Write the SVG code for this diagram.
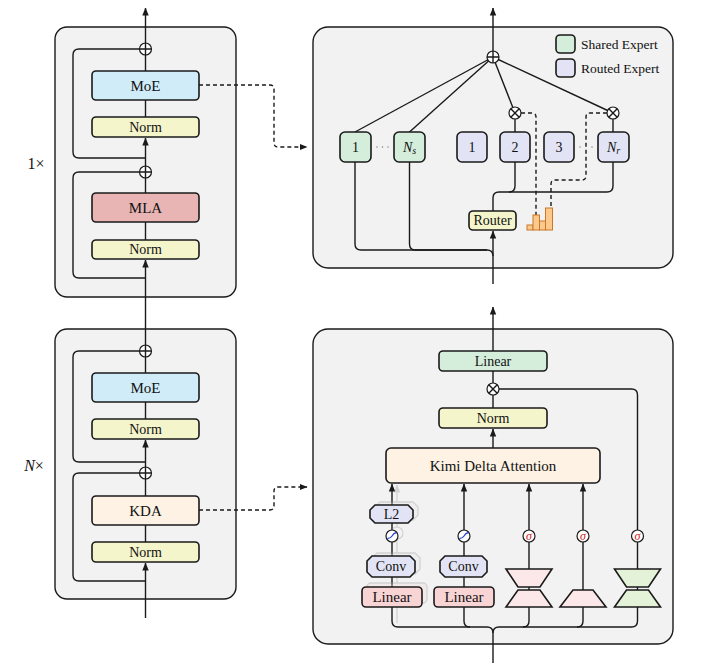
<svg xmlns="http://www.w3.org/2000/svg" width="720" height="671" viewBox="0 0 720 671">
<defs>
<style>
.panel{fill:#f2f2f2;stroke:#1a1a1a;stroke-width:1.4}
.box{stroke:#1a1a1a;stroke-width:1.6}
.ln{fill:none;stroke:#1a1a1a;stroke-width:1.4}
.dash{fill:none;stroke:#1a1a1a;stroke-width:1.4;stroke-dasharray:4 3}
.t{font-family:"Liberation Serif",serif;font-size:15px;fill:#111;text-anchor:middle;dominant-baseline:central}
.ts{font-family:"Liberation Serif",serif;font-size:14px;fill:#111;text-anchor:middle;dominant-baseline:central}
.lg{font-family:"Liberation Serif",serif;font-size:13.5px;fill:#111;dominant-baseline:central}
.lab{font-family:"Liberation Serif",serif;font-size:16px;fill:#111;text-anchor:middle;dominant-baseline:central}
.op{fill:#fff;stroke:#1a1a1a;stroke-width:1.2}
.moe{fill:#d0ecf8}.norm{fill:#f5f5cc}.mla{fill:#e8b4b4}.kda{fill:#fdf2e4}
.sh{fill:#d5eedc}.ro{fill:#e2e4f5}.lin{fill:#f8d4d4}.conv{fill:#e2e4f5}
.pk{fill:#fce8e8}.gr{fill:#e4f2d8}
.bar{fill:#fcc88c;stroke:#c87828;stroke-width:1}
.sig{font-family:"Liberation Serif",serif;font-style:italic;font-size:12px;fill:#d01818;text-anchor:middle;dominant-baseline:central}
.sw{fill:none;stroke:#2a48e0;stroke-width:1.3}
.dot{fill:#777}
</style>
<marker id="ar" viewBox="0 0 8 8" refX="7.5" refY="4" markerWidth="8" markerHeight="8" markerUnits="userSpaceOnUse" orient="auto">
<path d="M0,0.8 L8,4 L0,7.2 Z" fill="#1a1a1a"/>
</marker>
<marker id="arg" viewBox="0 0 8 8" refX="7.5" refY="4" markerWidth="8" markerHeight="8" markerUnits="userSpaceOnUse" orient="auto">
<path d="M0,0.8 L8,4 L0,7.2 Z" fill="#999"/>
</marker>
</defs>

<!-- panels -->
<g id="panel-top-left"><rect class="panel" x="55" y="27" width="181" height="270" rx="12"/></g>
<g id="panel-bottom-left"><rect class="panel" x="55" y="329" width="181" height="270" rx="12"/></g>
<g id="panel-top-right"><rect class="panel" x="313" y="27" width="360" height="241" rx="15"/></g>
<g id="panel-bottom-right"><rect class="panel" x="313" y="329" width="360" height="315" rx="15"/></g>

<g id="connectors">
<!-- left stack trunk -->
<path class="ln" d="M145.5 618 V563" marker-end="url(#ar)"/>
<path class="ln" d="M145.5 562 V479"/>
<path class="ln" d="M145.5 467 V440" marker-end="url(#ar)"/>
<path class="ln" d="M145.5 439 V357"/>
<path class="ln" d="M145.5 345 V260" marker-end="url(#ar)"/>
<path class="ln" d="M145.5 259 V178"/>
<path class="ln" d="M145.5 166 V138" marker-end="url(#ar)"/>
<path class="ln" d="M145.5 137 V55"/>
<path class="ln" d="M145.5 43 V8" marker-end="url(#ar)"/>
<!-- residual loops -->
<path class="ln" d="M145.5 278 H79 Q73 278 73 272 V178 Q73 172 79 172 H139.5"/>
<path class="ln" d="M145.5 158 H79 Q73 158 73 152 V55 Q73 49 79 49 H139.5"/>
<path class="ln" d="M145.5 581 H79 Q73 581 73 575 V479 Q73 473 79 473 H139.5"/>
<path class="ln" d="M145.5 462 H79 Q73 462 73 456 V357 Q73 351 79 351 H139.5"/>
<!-- dashed zoom links -->
<path class="dash" d="M199 85 H270 Q274 85 274 89 V143 Q274 147 278 147 H307" marker-end="url(#ar)"/>
<path class="dash" d="M199 510 H270 Q274 510 274 506 V491 Q274 487 278 487 H307" marker-end="url(#ar)"/>

<!-- MoE detail -->
<path class="ln" d="M493 284 V231" marker-end="url(#ar)"/>
<path class="ln" d="M355 162 V244 Q355 250 361 250 H487 Q493 250 493 256"/>
<path class="ln" d="M409.5 162 V244 Q409.5 250 415.5 250 H487"/>
<path class="ln" d="M493 211 V198 Q493 192 499 192 H607 Q613 192 613 186 V162"/>
<path class="ln" d="M515 162 V186 Q515 192 509 192"/>
<path class="ln" d="M493 57 L355 132"/>
<path class="ln" d="M493 57 L409.5 132"/>
<path class="ln" d="M493 57 L515 113"/>
<path class="ln" d="M493 57 L613 113"/>
<path class="ln" d="M515 119 V132"/>
<path class="ln" d="M613 119 V132"/>
<path class="ln" d="M493 51 V8" marker-end="url(#ar)"/>
<path class="dash" d="M521 113 H532 Q536 113 536 117 V215"/>
<path class="dash" d="M607 113 H590 Q586 113 586 117 V176 Q586 180 582 180 H555 Q551 180 551 184 V208"/>

<!-- KDA detail -->
<path class="ln" d="M493 351 V307" marker-end="url(#ar)"/>
<path class="ln" d="M493 383 V371"/>
<path class="ln" d="M493 408 V395"/>
<path class="ln" d="M493 448 V429" marker-end="url(#ar)"/>
<path class="ln" d="M499 389 H631.5 Q637.5 389 637.5 395 V530"/>
<path class="ln" d="M493 663 V633"/>
<path class="ln" d="M493 633 Q493 627 487 627 H398 Q392 627 392 621 V484" marker-end="url(#ar)"/>
<path class="ln" d="M470 627 Q464 627 464 621 V484" marker-end="url(#ar)"/>
<path class="ln" d="M493 633 Q493 627 499 627 H631.5 Q637.5 627 637.5 621 V542"/>
<path class="ln" d="M523 627 Q529 627 529 621 V484" marker-end="url(#ar)"/>
<path class="ln" d="M577 627 Q583 627 583 621 V484" marker-end="url(#ar)"/>
</g>

<!-- left stack nodes -->
<g id="moe-1"><rect class="box moe" x="92" y="71" width="107" height="29" rx="4"/><text class="t" x="145.5" y="85.5">MoE</text></g>
<g id="norm-1b"><rect class="box norm" x="92" y="117" width="107" height="20" rx="4"/><text class="ts" x="145.5" y="127">Norm</text></g>
<g id="mla"><rect class="box mla" x="92" y="193" width="107" height="29" rx="4"/><text class="t" x="145.5" y="207.5">MLA</text></g>
<g id="norm-1a"><rect class="box norm" x="92" y="240" width="107" height="19" rx="4"/><text class="ts" x="145.5" y="249.5">Norm</text></g>
<g id="add-1b"><circle class="op" cx="145.5" cy="49" r="6"/><path class="ln" d="M139.5 49 H151.5 M145.5 43 V55"/></g>
<g id="add-1a"><circle class="op" cx="145.5" cy="172" r="6"/><path class="ln" d="M139.5 172 H151.5 M145.5 166 V178"/></g>
<g id="label-1x"><text class="lab" x="36" y="163">1×</text></g>

<g id="moe-n"><rect class="box moe" x="92" y="373" width="107" height="29" rx="4"/><text class="t" x="145.5" y="387.5">MoE</text></g>
<g id="norm-nb"><rect class="box norm" x="92" y="419" width="107" height="20" rx="4"/><text class="ts" x="145.5" y="429">Norm</text></g>
<g id="kda"><rect class="box kda" x="92" y="496" width="107" height="29" rx="4"/><text class="t" x="145.5" y="510.5">KDA</text></g>
<g id="norm-na"><rect class="box norm" x="92" y="542" width="107" height="20" rx="4"/><text class="ts" x="145.5" y="552">Norm</text></g>
<g id="add-nb"><circle class="op" cx="145.5" cy="351" r="6"/><path class="ln" d="M139.5 351 H151.5 M145.5 345 V357"/></g>
<g id="add-na"><circle class="op" cx="145.5" cy="473" r="6"/><path class="ln" d="M139.5 473 H151.5 M145.5 467 V479"/></g>
<g id="label-nx"><text class="lab" x="34" y="465"><tspan font-style="italic">N</tspan>×</text></g>

<!-- MoE detail nodes -->
<g id="moe-add"><circle class="op" cx="493" cy="57" r="6"/><path class="ln" d="M487 57 H499 M493 51 V63"/></g>
<g id="mul-2"><circle class="op" cx="515" cy="113" r="6"/><path class="ln" d="M510.8 108.8 L519.2 117.2 M519.2 108.8 L510.8 117.2"/></g>
<g id="mul-nr"><circle class="op" cx="613" cy="113" r="6"/><path class="ln" d="M608.8 108.8 L617.2 117.2 M617.2 108.8 L608.8 117.2"/></g>
<g id="shared-1"><rect class="box sh" x="340" y="132" width="31" height="30" rx="5"/><text class="ts" x="355.5" y="147">1</text></g>
<g id="shared-ns"><rect class="box sh" x="394" y="132" width="31" height="30" rx="5"/><text class="ts" x="409.5" y="147"><tspan font-style="italic">N</tspan><tspan font-style="italic" font-size="10" dy="3">s</tspan></text></g>
<g id="routed-1"><rect class="box ro" x="457" y="132" width="30" height="30" rx="5"/><text class="ts" x="472" y="147">1</text></g>
<g id="routed-2"><rect class="box ro" x="500" y="132" width="30" height="30" rx="5"/><text class="ts" x="515" y="147">2</text></g>
<g id="routed-3"><rect class="box ro" x="544" y="132" width="30" height="30" rx="5"/><text class="ts" x="559" y="147">3</text></g>
<g id="routed-nr"><rect class="box ro" x="598" y="132" width="31" height="30" rx="5"/><text class="ts" x="613.5" y="147"><tspan font-style="italic">N</tspan><tspan font-style="italic" font-size="10" dy="3">r</tspan></text></g>
<g id="dots"><circle class="dot" cx="377" cy="147" r="0.7"/><circle class="dot" cx="382.5" cy="147" r="0.7"/><circle class="dot" cx="388" cy="147" r="0.7"/><circle class="dot" cx="580" cy="147" r="0.7"/><circle class="dot" cx="592" cy="147" r="0.7"/></g>
<g id="router"><rect class="box norm" x="469" y="211" width="47" height="19" rx="4"/><text class="ts" x="492.5" y="220.5" font-size="13.5">Router</text></g>
<g id="scores"><rect class="bar" x="527" y="225" width="6" height="5"/><rect class="bar" x="533" y="215" width="6.5" height="15"/><rect class="bar" x="539.5" y="221" width="6" height="9"/><rect class="bar" x="545.5" y="208" width="7" height="22"/></g>
<g id="legend"><rect class="box sh" x="556" y="35" width="19" height="18" rx="4"/><text class="lg" x="581" y="44">Shared Expert</text><rect class="box ro" x="556" y="59" width="19" height="18" rx="4"/><text class="lg" x="581" y="68">Routed Expert</text></g>

<!-- KDA detail nodes -->
<g id="out-linear"><rect class="box sh" x="439" y="351" width="108" height="20" rx="4"/><text class="ts" x="493" y="361">Linear</text></g>
<g id="gate-mul"><circle class="op" cx="493" cy="389" r="6"/><path class="ln" d="M488.8 384.8 L497.2 393.2 M497.2 384.8 L488.8 393.2"/></g>
<g id="out-norm"><rect class="box norm" x="439" y="408" width="108" height="20" rx="4"/><text class="ts" x="493" y="418">Norm</text></g>
<g id="kimi-delta-attention"><rect class="box kda" x="386" y="448" width="214" height="35" rx="5"/><text class="t" x="493" y="465.5">Kimi Delta Attention</text></g>

<g id="branch-q-ghost" opacity="0.35">
<path d="M397 623 V485" fill="none" stroke="#999" stroke-width="1.3" marker-end="url(#arg)"/>
<path d="M380 502 H413 L418 507 V515 L413 520 H380 L375 515 V507 Z" fill="#e8e8ee" stroke="#999" stroke-width="1.3"/>
<circle cx="397" cy="533" r="6" fill="#f4f4f4" stroke="#999" stroke-width="1.2"/>
<path d="M377 553 H415 L420 558 V569 L415 574 H377 L372 569 V558 Z" fill="#e8e8ee" stroke="#999" stroke-width="1.3"/>
<rect x="367" y="583" width="60" height="20" rx="4" fill="#f2dcdc" stroke="#999" stroke-width="1.3"/>
</g>
<g id="branch-q">
<path class="box conv" d="M375 505 H408 L413 510 V518 L408 523 H375 L370 518 V510 Z"/><text class="ts" x="391.5" y="514">L2</text>
<circle class="op" cx="392" cy="536" r="6"/><path class="sw" d="M387.5 538.5 Q390.5 538.5 392 536 Q393.5 533 396.5 532.5"/>
<path class="box conv" d="M372 556 H410 L415 561 V572 L410 577 H372 L367 572 V561 Z"/><text class="ts" x="391" y="566.5">Conv</text>
<rect class="box lin" x="362" y="587" width="60" height="20" rx="4"/><text class="t" x="392" y="597">Linear</text>
</g>
<g id="branch-k">
<circle class="op" cx="464" cy="536" r="6"/><path class="sw" d="M459.5 538.5 Q462.5 538.5 464 536 Q465.5 533 468.5 532.5"/>
<path class="box conv" d="M445 556 H482 L487 561 V572 L482 577 H445 L440 572 V561 Z"/><text class="ts" x="463.5" y="566.5">Conv</text>
<rect class="box lin" x="434" y="587" width="60" height="20" rx="4"/><text class="t" x="464" y="597">Linear</text>
</g>
<g id="branch-alpha">
<circle class="op" cx="529" cy="536" r="6"/><text class="sig" x="529" y="535.5">σ</text>
<path class="box pk" d="M506 569 H552 L540 587 H518 Z M518 590 H540 L552 607 H506 Z"/>
</g>
<g id="branch-beta">
<circle class="op" cx="583" cy="536" r="6"/><text class="sig" x="583" y="535.5">σ</text>
<path class="box pk" d="M573 590 H593 L606 607 H560 Z"/>
</g>
<g id="branch-gate">
<circle class="op" cx="637.5" cy="536" r="6"/><text class="sig" x="637.5" y="535.5">σ</text>
<path class="box gr" d="M614.5 569 H660.5 L648.5 587 H626.5 Z M626.5 590 H648.5 L660.5 607 H614.5 Z"/>
</g>
</svg>
